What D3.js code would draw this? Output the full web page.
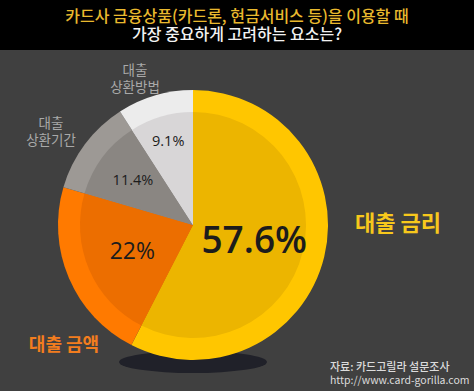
<!DOCTYPE html>
<html>
<head>
<meta charset="utf-8">
<script src="https://cdn.jsdelivr.net/npm/d3@7"></script>
<style>
  body { margin: 0; background: #404040; }
  svg { display: block; font-family: "Noto Sans CJK KR", "Noto Sans", sans-serif; }
</style>
</head>
<body>
<svg id="chart" width="474" height="391"></svg>
<script>
const categories = ['대출 금리', '대출 금액', '대출 상환기간', '대출 상환방법'];
const values = [57.6, 22, 11.4, 9.1];
const valueLabels = ['57.6%', '22%', '11.4%', '9.1%'];
const outerColors = ['#ffc600', '#ff7a00', '#9d9995', '#ececec'];
const innerColors = ['#ecb500', '#ec6e00', '#8a8682', '#d8d6d7'];

const W = 474, H = 391;
const cx = 193, cy = 225, R = 135, r2 = 113;

const svg = d3.select('#chart');

// header
svg.append('rect').attr('width', W).attr('height', 50).attr('fill', '#000');
svg.append('text').attr('x', W / 2).attr('y', 22).attr('text-anchor', 'middle')
  .attr('fill', '#e9b92e').attr('font-size', 16).attr('font-weight', 500)
  .text('카드사 금융상품(카드론, 현금서비스 등)을 이용할 때');
svg.append('text').attr('x', W / 2).attr('y', 40).attr('text-anchor', 'middle')
  .attr('fill', '#f2f2f2').attr('font-size', 16).attr('font-weight', 500)
  .text('가장 중요하게 고려하는 요소는?');

// shadow
svg.append('ellipse').attr('cx', cx).attr('cy', 362).attr('rx', 74).attr('ry', 11)
  .attr('fill', '#202129');

const pie = d3.pie().sort(null).value(d => d)(values);
const outerArc = d3.arc().innerRadius(0).outerRadius(R);
const innerArc = d3.arc().innerRadius(0).outerRadius(r2);

const g = svg.append('g').attr('transform', `translate(${cx},${cy})`);
g.selectAll('path.outer').data(pie).enter().append('path')
  .attr('class', 'outer').attr('d', outerArc).attr('fill', (d, i) => outerColors[i]);
g.selectAll('path.inner').data(pie).enter().append('path')
  .attr('class', 'inner').attr('d', innerArc).attr('fill', (d, i) => innerColors[i]);

// value labels inside slices
const labelR = [63, 66, 75, 88];
const labelSize = [37, 23, 14.5, 14.5];
const labelWeight = [600, 500, 400, 400];
g.selectAll('text.val').data(pie).enter().append('text')
  .attr('class', 'val')
  .attr('transform', (d, i) => {
    const a = (d.startAngle + d.endAngle) / 2;
    return `translate(${Math.sin(a) * labelR[i]},${-Math.cos(a) * labelR[i]})`;
  })
  .attr('text-anchor', 'middle').attr('dy', '0.35em')
  .attr('font-size', (d, i) => labelSize[i])
  .attr('font-weight', (d, i) => labelWeight[i])
  .attr('fill', '#1c1c1c')
  .attr('font-family', '"Open Sans", "Noto Sans", sans-serif')
  .text((d, i) => valueLabels[i]);

// category labels
svg.append('text').attr('x', 398).attr('y', 231).attr('text-anchor', 'middle')
  .attr('fill', '#f7c81c').attr('font-size', 22).attr('font-weight', 700)
  .text(categories[0]);
svg.append('text').attr('x', 64).attr('y', 351).attr('text-anchor', 'middle')
  .attr('fill', '#f37d1e').attr('font-size', 18).attr('font-weight', 700)
  .text(categories[1]);

const grayLabel = (x, y, lines) => {
  const t = svg.append('text').attr('text-anchor', 'middle')
    .attr('fill', '#a9a9a9').attr('font-size', 13.5);
  lines.forEach((s, i) => t.append('tspan').attr('x', x).attr('y', y + i * 17).text(s));
};
grayLabel(51, 128, ['대출', '상환기간']);
grayLabel(135, 75, ['대출', '상환방법']);

// source
svg.append('text').attr('x', 330).attr('y', 371).attr('fill', '#dcdcdc')
  .attr('font-size', 11).attr('font-weight', 500).text('자료: 카드고릴라 설문조사');
svg.append('text').attr('x', 330).attr('y', 384).attr('fill', '#dcdcdc')
  .attr('font-size', 10.5).text('http://www.card-gorilla.com');
</script>
</body>
</html>
